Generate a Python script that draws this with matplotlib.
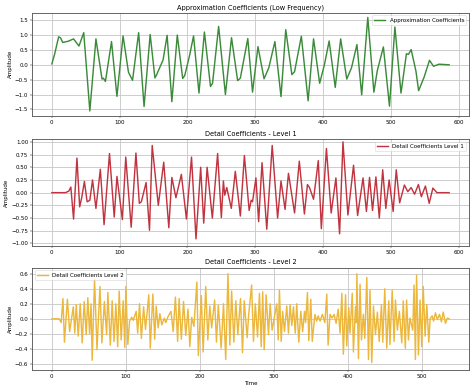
import matplotlib
matplotlib.use("Agg")
import matplotlib.pyplot as plt

# ---- Approximation coefficients (extrema) ----
approx_x = [0, 4, 10, 13, 16, 24, 32, 40, 47, 56, 65, 74, 76, 79, 88, 96, 105, 113, 119,
            128, 136, 145, 152, 154, 164, 170, 177, 185, 193, 196, 203, 209, 217, 225, 234,
            237, 246, 256, 265, 274, 278, 289, 296, 304, 313, 320, 329, 338, 345, 354, 358,
            368, 378, 386, 395, 402, 409, 418, 426, 435, 442, 450, 457, 466, 475, 480, 489,
            498, 506, 515, 523, 526, 530, 537, 541, 549, 557, 563, 571, 586]
approx_y = [0.03, 0.35, 0.94, 0.90, 0.75, 0.79, 0.87, 0.63, 1.08, -1.55, 0.87, -0.48, -0.45,
            -0.56, 0.78, -1.06, 0.97, -0.25, -0.52, 1.08, -1.40, 1.02, -0.44, -0.36, 0.16,
            0.99, -1.24, 1.00, -0.46, -0.36, 0.30, 0.97, -0.95, 1.10, -0.73, -0.62, 1.29,
            -1.00, 0.91, -0.53, -0.45, 0.88, -0.92, 0.61, -0.47, -0.10, 0.78, -1.07, 1.18,
            -0.33, -0.23, 0.96, -1.21, 0.87, -0.62, 0.00, 0.80, -0.76, 0.87, -0.48, -0.10,
            0.68, -1.01, 1.59, -0.92, -0.20, 0.60, -1.39, 1.27, -0.95, 0.37, 0.35, 0.51,
            -0.21, -0.87, -0.42, 0.15, -0.05, 0.02, 0.00]

# ---- Detail coefficients level 1 ----
d1_x = [0, 20, 25, 28, 32, 37, 41, 44, 48, 52, 56, 60, 65, 71.5, 77, 85, 92, 96, 104, 109,
        117, 124, 129, 132, 139, 144, 148, 157, 165, 172.5, 177, 183, 191, 198.5, 206, 212.6,
        219.5, 224, 229, 236.7, 244.5, 250, 253, 255, 258, 264.7, 270.6, 278, 284, 291, 294,
        296, 301, 305, 310, 317, 325, 333, 338, 344, 349, 358, 365, 372.5, 377, 380, 386,
        393, 397.5, 405, 412, 419, 424.4, 429.4, 436.7, 445, 451, 459, 464, 468.6, 473, 478,
        483, 488, 492.6, 497.5, 503.4, 508, 513, 520, 525, 530, 535, 540.7, 545, 551, 556.6,
        562, 568, 575, 586]
d1_y = [0.0, 0.0, 0.03, 0.11, -0.52, 0.68, -0.28, -0.10, 0.22, -0.18, -0.15, 0.25, -0.31,
        0.46, -0.63, 0.77, -0.48, 0.32, -0.53, 0.70, -0.68, 0.78, -0.21, -0.18, 0.20, -0.74,
        0.93, -0.25, 0.60, -0.69, 0.30, -0.10, 0.36, -0.52, 0.70, -0.91, 0.50, -0.60, 0.50,
        -0.50, 0.77, -0.49, 0.23, -0.05, 0.10, -0.31, 0.42, -0.46, 0.73, -0.35, -0.15, -0.18,
        0.29, -0.57, 0.59, -0.72, 0.93, -0.50, 0.23, -0.33, 0.38, -0.40, 0.62, -0.42, 0.16,
        0.10, -0.13, 0.63, -0.71, 0.87, -0.40, 0.29, -0.81, 1.00, -0.44, 0.54, -0.45, 0.29,
        -0.37, 0.30, -0.35, 0.31, -0.50, 0.45, -0.31, 0.25, -0.37, 0.45, -0.20, 0.15, 0.02,
        0.10, -0.03, 0.16, -0.08, 0.13, -0.21, 0.09, 0.00, 0.00, 0.00]

# ---- Detail coefficients level 2 ----
d2_x = [0, 10, 12.6, 15, 17, 21, 24, 29, 31, 33, 35.6, 38.3, 41, 43.7, 46.4, 48.6, 51, 53,
        54.5, 57.7, 61, 65, 67.6, 71, 74, 75.7, 79, 81.5, 84, 86.5, 89, 91, 93.7, 96.4, 98.6,
        100, 102.7, 105, 108, 110, 114, 116, 118.5, 121, 124, 126.6, 131, 133, 136.5, 139,
        141, 143.7, 146, 148.6, 152, 154, 157, 161, 164, 167, 170, 172, 175, 178, 181, 184,
        186.5, 189, 192, 196, 198, 202, 204.5, 208, 210.8, 213.5, 216, 220, 222.5, 225, 228.8,
        232, 235, 238, 240.6, 243, 246, 248.6, 251.4, 255, 257.7, 260, 264, 266, 270, 272.5,
        275, 278, 280.6, 283, 285, 287, 289.6, 292.8, 295, 297.7, 300.4, 304, 306, 307.6, 310,
        312, 314.4, 317.5, 319.8, 322, 324.3, 326.6, 329, 331, 333.8, 336.5, 339, 341.5, 343,
        345.5, 347.3, 350, 352, 355.6, 358, 360, 362.5, 365.6, 369, 371.6, 373.4, 376, 378.8,
        381.5, 384.2, 387, 389.6, 392, 394, 397, 398.6, 401.3, 403, 406, 407.6, 410.4, 411.5,
        412.3, 414.4, 416.6, 418.5, 421, 423, 425.7, 428, 430, 432.4, 434.7, 437.4, 440,
        442.5, 445.5, 447.3, 450, 452.7, 455.4, 457, 460, 462.6, 464.4, 467, 469.7, 473, 475,
        477.8, 479.5, 482, 484, 487.8, 489.6, 491.4, 493, 495.5, 497.7, 500, 502, 504.5,
        506.8, 509.5, 511.3, 514, 516, 518.5, 521, 524, 526.6, 529, 532, 534.7, 537]
d2_y = [0.0, 0.0, -0.05, 0.27, -0.31, 0.26, -0.17, 0.16, -0.19, 0.19, -0.23, 0.20, -0.32,
        0.23, -0.21, 0.28, -0.20, 0.20, -0.55, 0.53, -0.41, 0.43, -0.32, 0.23, -0.21, 0.35,
        -0.35, 0.24, -0.30, 0.20, -0.37, 0.37, -0.28, 0.24, -0.38, 0.43, -0.34, -0.03, 0.02,
        -0.02, 0.10, -0.19, 0.20, -0.26, 0.16, -0.14, 0.32, -0.39, 0.33, -0.27, 0.17, -0.12,
        0.07, -0.08, 0.01, -0.05, 0.03, 0.10, -0.17, 0.29, -0.30, 0.27, -0.27, 0.23, -0.22,
        0.13, -0.37, 0.02, -0.10, 0.49, -0.49, 0.31, -0.44, 0.43, -0.28, 0.17, -0.12, 0.25,
        -0.31, 0.18, -0.39, 0.20, -0.54, 0.60, -0.35, 0.37, -0.31, 0.24, -0.21, 0.27, -0.45,
        0.24, -0.25, 0.05, 0.45, -0.30, 0.20, -0.24, 0.34, -0.37, 0.36, -0.41, 0.32, -0.21,
        0.20, -0.15, 0.00, 0.20, -0.28, 0.38, -0.30, 0.10, -0.17, 0.17, -0.19, 0.19, -0.09,
        0.16, -0.19, 0.20, -0.31, 0.10, -0.17, 0.10, -0.05, 0.35, -0.29, 0.26, -0.30, 0.06,
        -0.03, 0.04, -0.03, 0.06, -0.05, 0.33, -0.35, 0.06, 0.01, 0.06, -0.06, 0.13, -0.19,
        0.34, -0.47, 0.32, -0.36, 0.15, -0.19, 0.34, -0.44, 0.16, -0.05, 0.60, -0.53, 0.46,
        -0.28, 0.06, -0.26, 0.55, -0.54, 0.38, -0.58, 0.17, -0.21, 0.09, -0.30, 0.19, -0.31,
        0.40, -0.39, 0.24, -0.34, 0.38, -0.30, 0.25, -0.15, 0.10, -0.32, 0.24, -0.39, 0.25,
        -0.28, 0.01, -0.15, 0.45, -0.54, 0.58, -0.48, 0.25, -0.37, 0.43, -0.23, 0.19, -0.31,
        0.00, 0.04, -0.03, 0.08, -0.01, 0.06, -0.04, 0.09, -0.06, 0.01, 0.00]

titles = ["Approximation Coefficients (Low Frequency)",
          "Detail Coefficients - Level 1",
          "Detail Coefficients - Level 2"]
labels = ["Approximation Coefficients", "Detail Coefficients Level 1",
          "Detail Coefficients Level 2"]
colors = ["#3a8a3a", "#c0333f", "#ecb73a"]

W, H = 474, 391
fig = plt.figure(figsize=(12, 12 * H / W), dpi=W / 12)

rects = [(32, 12.7, 469, 115.7), (32, 139.3, 469, 246), (32, 267.7, 469, 370)]
series = [(approx_x, approx_y), (d1_x, d1_y), (d2_x, d2_y)]
legend_locs = ["upper right", "upper right", "upper left"]

axes = []
for i, ((l, t, r, b), (xs, ys)) in enumerate(zip(rects, series)):
    ax = fig.add_axes([l / W, 1 - b / H, (r - l) / W, (b - t) / H])
    ax.plot(xs, ys, color=colors[i], lw=2.6, label=labels[i], solid_joinstyle="round")
    ax.set_title(titles[i], fontsize=12)
    ax.set_ylabel("Amplitude", fontsize=10)
    ax.grid(True, color="#c8c8c8", lw=1.6)
    ax.legend(loc=legend_locs[i], fontsize=10)
    for s in ax.spines.values():
        s.set_linewidth(1.6)
        s.set_color("#555555")
    axes.append(ax)

axes[0].set_yticks([-1.5, -1.0, -0.5, 0.0, 0.5, 1.0, 1.5])
axes[1].set_yticks([-1.0, -0.75, -0.5, -0.25, 0.0, 0.25, 0.5, 0.75, 1.0])
axes[2].set_yticks([-0.6, -0.4, -0.2, 0.0, 0.2, 0.4, 0.6])
axes[0].set_ylim(-1.71, 1.75)
axes[1].set_ylim(-1.05, 1.05)
axes[2].set_ylim(-0.68, 0.68)
axes[2].set_xlabel("Time", fontsize=10)

fig.savefig("out.png", dpi=W / 12)
